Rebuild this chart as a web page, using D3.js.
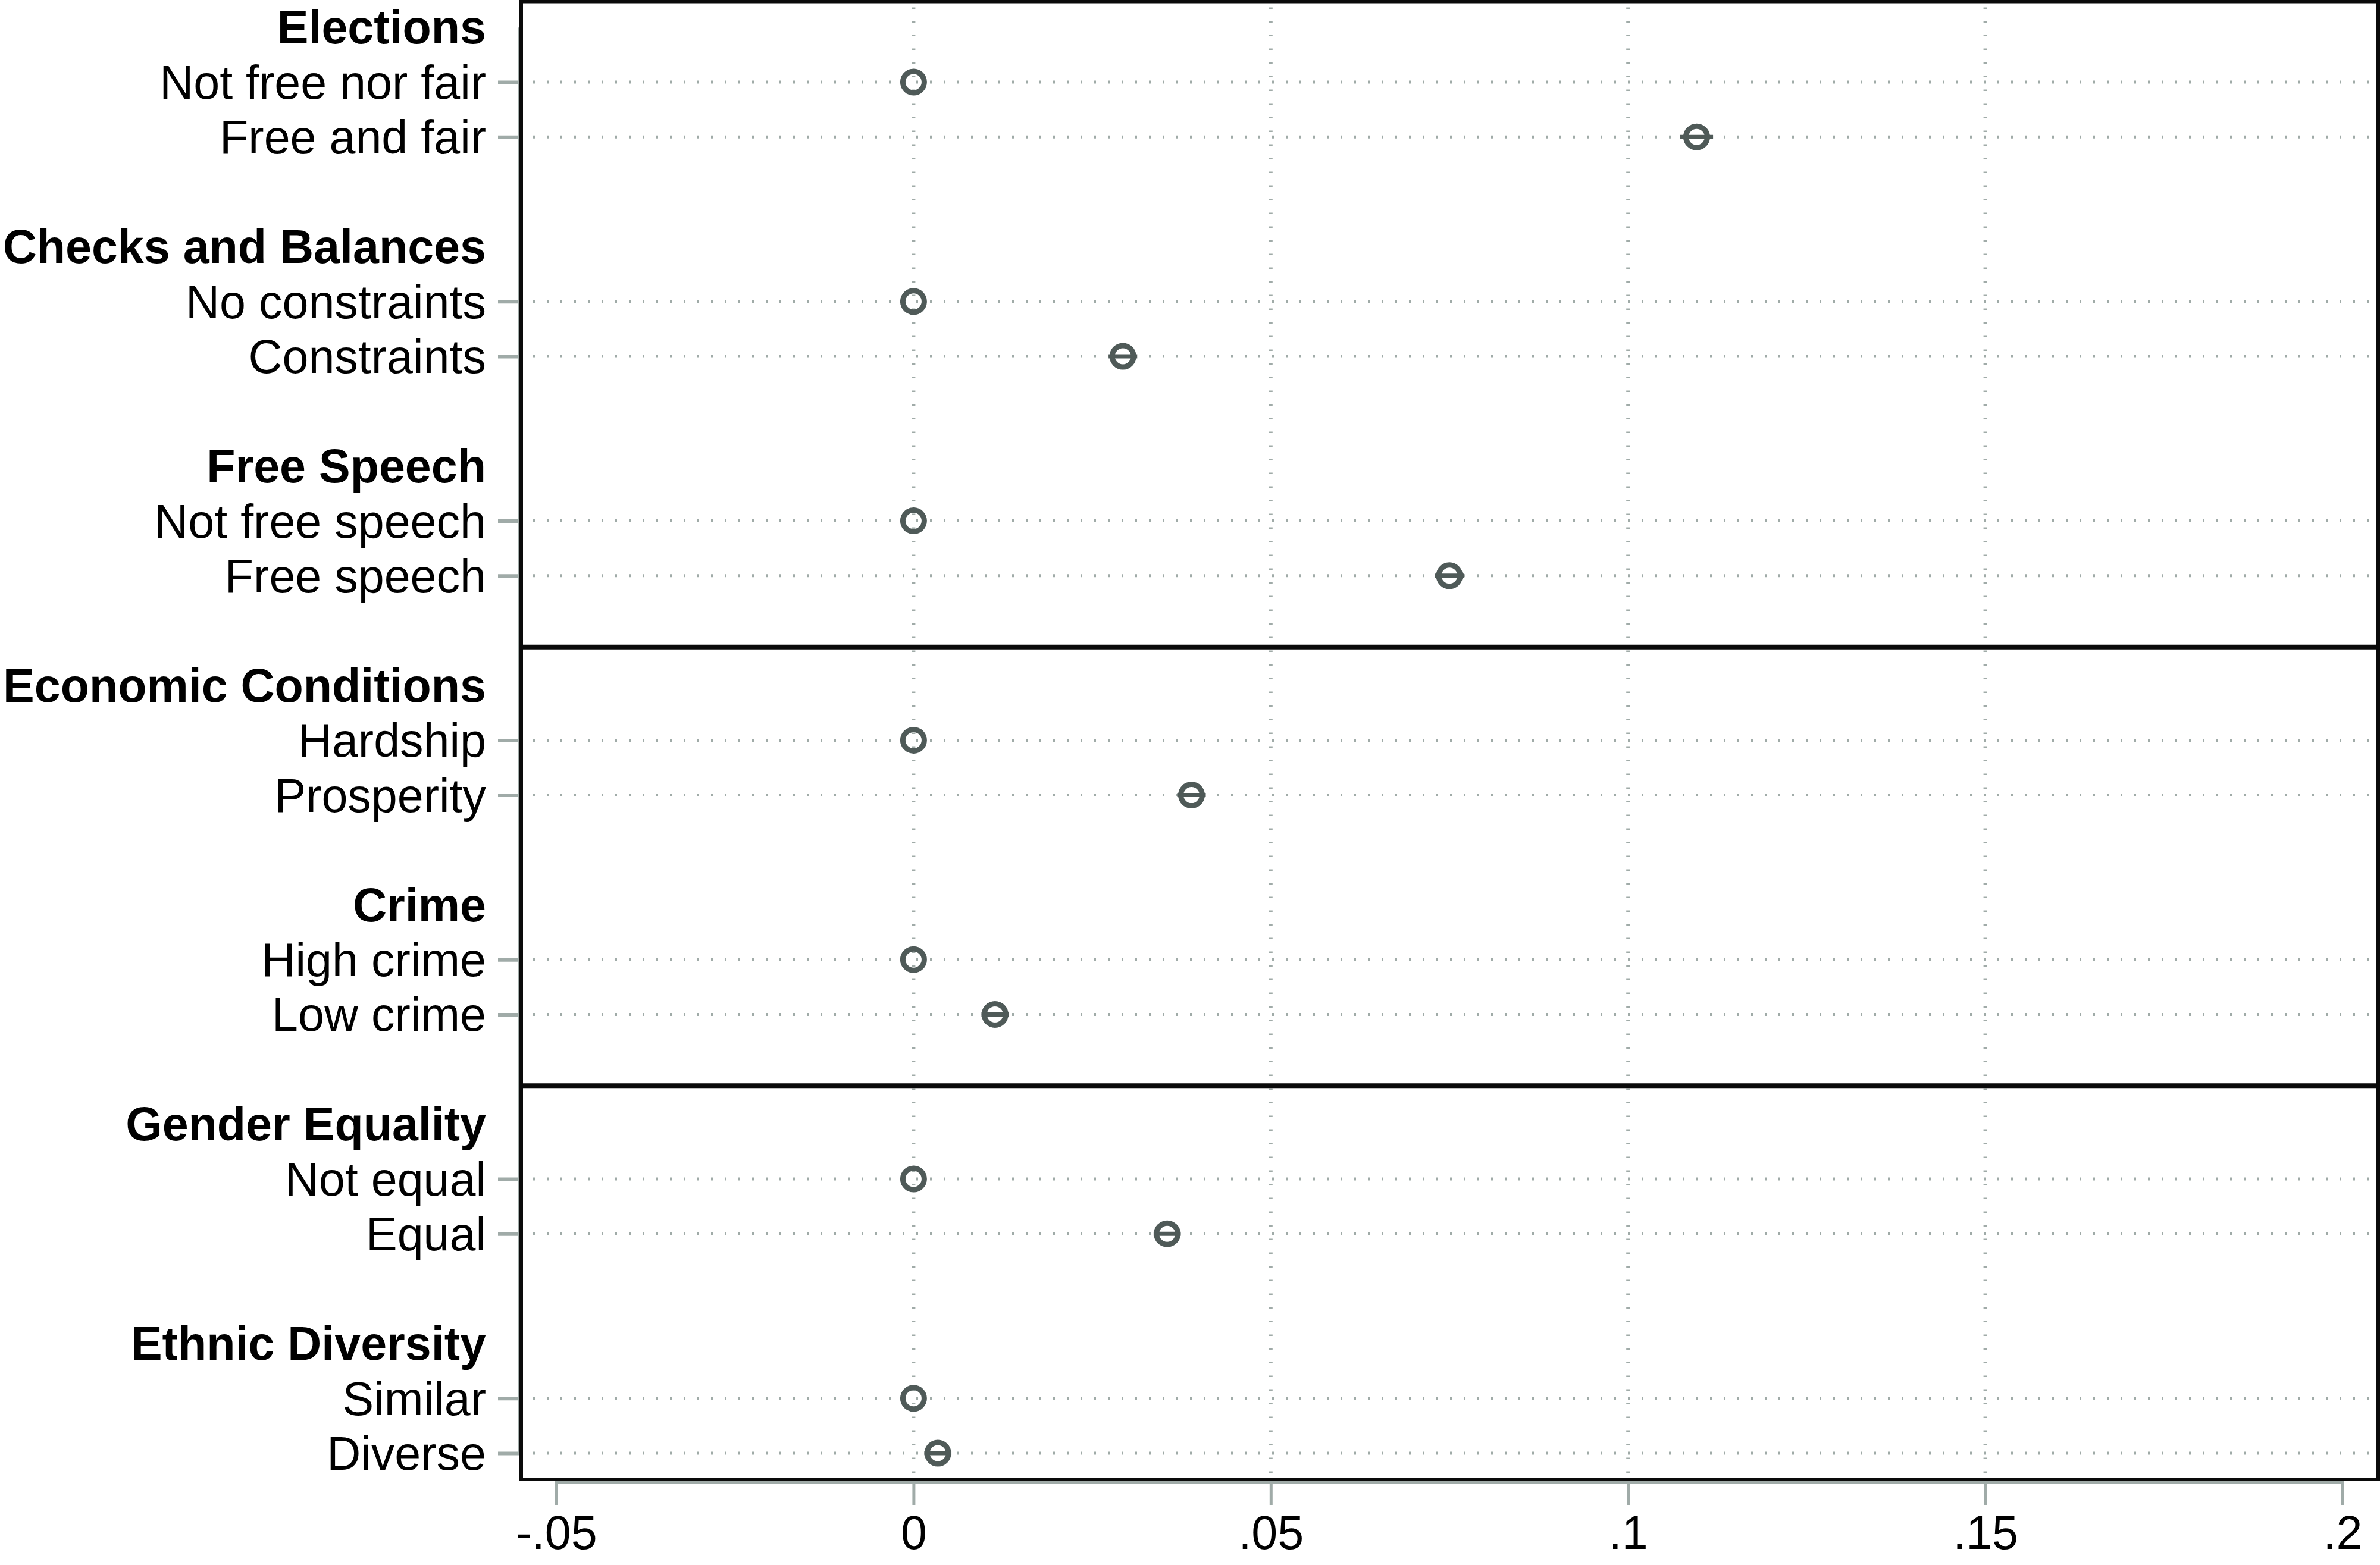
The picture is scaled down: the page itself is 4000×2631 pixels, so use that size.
<!DOCTYPE html>
<html>
<head>
<meta charset="utf-8">
<script src="https://cdn.jsdelivr.net/npm/d3@7"></script>
<style>
  html, body { margin: 0; padding: 0; background: #ffffff; }
  svg { display: block; }
</style>
</head>
<body>
<svg id="chart" width="4000" height="2631"></svg>
<script>
// ---------------- DATA ----------------
const groups = ["Elections", "Checks and Balances", "Free Speech", "Economic Conditions", "Crime", "Gender Equality", "Ethnic Diversity"];
const levels = [
  ["Not free nor fair", "Free and fair"],
  ["No constraints", "Constraints"],
  ["Not free speech", "Free speech"],
  ["Hardship", "Prosperity"],
  ["High crime", "Low crime"],
  ["Not equal", "Equal"],
  ["Similar", "Diverse"]
];
// point estimates (baseline level = 0)
const estimates = [0, 0.1096, 0, 0.0293, 0, 0.0750, 0, 0.0389, 0, 0.0114, 0, 0.0355, 0, 0.0034];
const ciLow     = [0, 0.1073, 0, 0.0273, 0, 0.0730, 0, 0.0369, 0, 0.0095, 0, 0.0336, 0, 0.0015];
const ciHigh    = [0, 0.1119, 0, 0.0313, 0, 0.0770, 0, 0.0409, 0, 0.0133, 0, 0.0374, 0, 0.0053];
const xTicks = [-0.05, 0, 0.05, 0.1, 0.15, 0.2];
const xTickLabels = ["-.05", "0", ".05", ".1", ".15", ".2"];
const xGridTicks = [0, 0.05, 0.1, 0.15];
const separatorAfterGroup = [2, 4]; // black lines after these group indexes

// ---------------- LAYOUT ----------------
const W = 4000, H = 2631;
const frame = { left: 876, right: 3997, top: 2.5, bottom: 2487 };
const FONT = "'Liberation Sans', Arial, Helvetica, sans-serif";
const FS = 79;
const gray = "#a0aba8";
const markColor = "#4f5a58";

const svg = d3.select("#chart");
svg.append("rect").attr("width", W).attr("height", H).attr("fill", "#ffffff");

// build rows
const rows = [];
groups.forEach((g, gi) => {
  levels[gi].forEach((lab, li) => {
    const idx = gi * 2 + li;
    rows.push({ slot: gi * 4 + 1 + li, label: lab, est: estimates[idx], lo: ciLow[idx], hi: ciHigh[idx], base: li === 0 });
  });
});
const headers = groups.map((g, gi) => ({ slot: gi * 4, label: g }));

const x = d3.scaleLinear().domain([-0.05, 0.2]).range([935, 3937]);
const y = d3.scaleLinear().domain([0, 26]).range([45.8, 2443]);

// vertical dotted gridlines
svg.append("g").selectAll("line").data(xGridTicks).join("line")
  .attr("x1", d => x(d)).attr("x2", d => x(d))
  .attr("y1", frame.top + 10).attr("y2", frame.bottom)
  .attr("stroke", gray).attr("stroke-width", 6)
  .attr("stroke-dasharray", "2.5 20.5");

// horizontal dotted gridlines at item rows
svg.append("g").selectAll("line").data(rows).join("line")
  .attr("x1", frame.left + 20).attr("x2", frame.right)
  .attr("y1", d => y(d.slot)).attr("y2", d => y(d.slot))
  .attr("stroke", gray).attr("stroke-width", 5)
  .attr("stroke-dasharray", "3 20");

// CI bars
svg.append("g").selectAll("line").data(rows.filter(d => !d.base)).join("line")
  .attr("x1", d => x(d.lo)).attr("x2", d => x(d.hi))
  .attr("y1", d => y(d.slot)).attr("y2", d => y(d.slot))
  .attr("stroke", markColor).attr("stroke-width", 7);

// markers
svg.append("g").selectAll("circle").data(rows).join("circle")
  .attr("cx", d => x(d.est)).attr("cy", d => y(d.slot))
  .attr("r", 18).attr("fill", "none")
  .attr("stroke", markColor).attr("stroke-width", 9);

// y axis (item labels)
const yAxis = d3.axisLeft(y)
  .tickValues(rows.map(d => d.slot))
  .tickFormat(s => rows.find(r => r.slot === s).label)
  .tickSize(36).tickSizeOuter(0).tickPadding(20);
const gy = svg.append("g").attr("transform", `translate(${frame.left - 3},0)`).call(yAxis);
gy.select(".domain").attr("stroke", gray).attr("stroke-width", 7);
gy.selectAll(".tick line").attr("stroke", gray).attr("stroke-width", 6);
gy.selectAll(".tick text")
  .attr("font-family", FONT).attr("font-size", FS).attr("fill", "#000")
  .attr("dy", null).attr("dominant-baseline", "central");

// group headers
svg.append("g").selectAll("text").data(headers).join("text")
  .attr("x", frame.left - 3 - 36 - 20).attr("y", d => y(d.slot))
  .attr("text-anchor", "end").attr("dominant-baseline", "central")
  .attr("font-family", FONT).attr("font-size", FS).attr("font-weight", "bold")
  .attr("fill", "#000")
  .text(d => d.label);

// x axis
const xAxis = d3.axisBottom(x)
  .tickValues(xTicks)
  .tickFormat((d, i) => xTickLabels[i])
  .tickSize(40).tickSizeOuter(0).tickPadding(18);
const gx = svg.append("g").attr("transform", `translate(0,${frame.bottom + 3})`).call(xAxis);
gx.select(".domain").attr("stroke", gray).attr("stroke-width", 7);
gx.selectAll(".tick line").attr("stroke", gray).attr("stroke-width", 5);
gx.selectAll(".tick text")
  .attr("font-family", FONT).attr("font-size", FS).attr("fill", "#000");

// frame
svg.append("rect")
  .attr("x", frame.left).attr("y", frame.top)
  .attr("width", frame.right - frame.left).attr("height", frame.bottom - frame.top)
  .attr("fill", "none").attr("stroke", "#0a0a0a").attr("stroke-width", 6);

// separators
svg.append("g").selectAll("line").data(separatorAfterGroup).join("line")
  .attr("x1", frame.left).attr("x2", frame.right)
  .attr("y1", g => y((g + 1) * 4 - 0.7)).attr("y2", g => y((g + 1) * 4 - 0.7))
  .attr("stroke", "#0a0a0a").attr("stroke-width", 8);
</script>
</body>
</html>
